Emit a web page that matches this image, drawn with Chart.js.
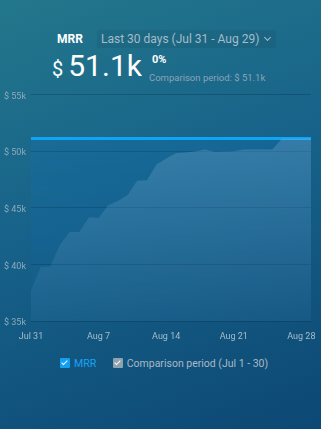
<!DOCTYPE html>
<html>
<head>
<meta charset="utf-8">
<script src="https://cdn.jsdelivr.net/npm/chart.js@4"></script>
<style>
  html, body { margin: 0; padding: 0; }
  body {
    width: 321px; height: 429px; overflow: hidden; position: relative;
    font-family: Roboto, "Noto Sans", sans-serif;
    background: linear-gradient(160deg, #23778b 0%, #17628a 45%, #0c4873 100%);
  }
  .abs { position: absolute; white-space: nowrap; }
  #title { left: 57px; top: 32px; font-size: 12px; font-weight: bold; color: #fff; }
  #range { left: 97px; top: 30px; padding: 2px 4px; font-size: 12px; color: #a4bccb; background: rgba(0,0,0,0.06); }
  #range .chev { display: inline-block; width: 4px; height: 4px; margin: 0 2px 3px 6px; border: solid #a4bccb; border-width: 0 1.5px 1.5px 0; transform: rotate(45deg); }
  #cur { left: 52px; top: 48px; font-size: 30px; color: #fff; }
  #cur small { font-size: 20px; margin-right: 5px; }
  #pct { left: 152px; top: 53px; font-size: 11px; font-weight: bold; color: #fff; }
  #cmp { left: 149px; top: 72px; font-size: 9.5px; color: #8aa5b7; }
  #chartWrap { position: absolute; left: 0; top: 85px; width: 321px; height: 270px; }
  #legend { left: 60px; top: 357px; font-size: 10.5px; }
  .box { display: inline-block; width: 10px; height: 10px; border-radius: 1px; vertical-align: -1px; margin-right: 4px; position: relative; }
  .box::after { content: ""; position: absolute; left: 3px; top: 1px; width: 2px; height: 5px; border: solid #fff; border-width: 0 1px 1px 0; transform: rotate(45deg); }
</style>
</head>
<body>
<div class="abs" id="title">MRR</div>
<div class="abs" id="range">Last 30 days (Jul 31 - Aug 29)<span class="chev"></span></div>
<div class="abs" id="cur"><small>$</small>51.1k</div>
<div class="abs" id="pct">0%</div>
<div class="abs" id="cmp">Comparison period: $ 51.1k</div>
<div id="chartWrap"><canvas id="mrrChart"></canvas></div>
<div class="abs" id="legend">
  <span class="box" style="background:#14a0f0"></span><span style="color:#1aa3f5;margin-right:14px">MRR</span>
  <span class="box" style="background:#8ea2b0"></span><span style="color:#a9b9c4">Comparison period (Jul 1 - 30)</span>
</div>
<script>
// Days of the current period (Jul 31 - Aug 29)
const days = ['Jul 31', 'Aug 1', 'Aug 2', 'Aug 3', 'Aug 4', 'Aug 5', 'Aug 6', 'Aug 7', 'Aug 8', 'Aug 9',
  'Aug 10', 'Aug 11', 'Aug 12', 'Aug 13', 'Aug 14', 'Aug 15', 'Aug 16', 'Aug 17', 'Aug 18', 'Aug 19',
  'Aug 20', 'Aug 21', 'Aug 22', 'Aug 23', 'Aug 24', 'Aug 25', 'Aug 26', 'Aug 27', 'Aug 28', 'Aug 29'];
const shownDays = ['Jul 31', 'Aug 7', 'Aug 14', 'Aug 21', 'Aug 28'];

// MRR current period
const mrr = [51100, 51100, 51100, 51100, 51100, 51100, 51100, 51100, 51100, 51100,
  51100, 51100, 51100, 51100, 51100, 51100, 51100, 51100, 51100, 51100,
  51100, 51100, 51100, 51100, 51100, 51100, 51100, 51100, 51100, 51100];

// Comparison period (Jul 1 - 30)
const comparison = [37700, 39770, 39800, 41700, 42860, 42860, 44160, 44100, 45220, 45600,
  46100, 47370, 47430, 48820, 49350, 49800, 49870, 49950, 50140, 49930,
  49960, 49990, 50140, 50140, 50140, 50140, 51100, 51100, 51100, 51100];

const yTicks = [35000, 40000, 45000, 50000, 55000];

function vGradient(ctx, top, bottom) {
  const area = ctx.chart.chartArea;
  if (!area) return top;
  const g = ctx.chart.ctx.createLinearGradient(0, area.top, 0, area.bottom);
  g.addColorStop(0, top);
  g.addColorStop(1, bottom);
  return g;
}

const ctx = document.getElementById('mrrChart').getContext('2d');
new Chart(ctx, {
  type: 'line',
  data: {
    labels: days,
    datasets: [{
      label: 'Comparison period (Jul 1 - 30)',
      data: comparison,
      borderWidth: 0,
      borderColor: 'rgba(0,0,0,0)',
      fill: 'origin',
      backgroundColor: c => vGradient(c, 'rgba(140,185,215,0.32)', 'rgba(140,185,215,0.06)'),
      pointRadius: 0,
      tension: 0
    }, {
      label: 'MRR',
      data: mrr,
      borderColor: '#0ea5f5',
      borderWidth: 3,
      fill: 'origin',
      backgroundColor: c => vGradient(c, 'rgba(10,130,230,0.16)', 'rgba(10,110,200,0.06)'),
      pointRadius: 0,
      tension: 0
    }]
  },
  options: {
    responsive: true,
    maintainAspectRatio: false,
    animation: false,
    layout: { padding: { top: 6, right: 7, left: 4, bottom: 0 } },
    plugins: { legend: { display: false }, tooltip: { enabled: false } },
    scales: {
      x: {
        grid: { display: false, drawTicks: false },
        border: { display: false },
        ticks: {
          autoSkip: false, maxRotation: 0, padding: 10,
          color: '#a7bccb', font: { size: 9, family: 'Roboto' },
          callback: function (v) { const l = this.getLabelForValue(v); return shownDays.includes(l) ? l : ''; }
        },
        afterFit: s => { s.height = 34; }
      },
      y: {
        min: yTicks[0], max: yTicks[yTicks.length - 1],
        afterBuildTicks: s => { s.ticks = yTicks.map(v => ({ value: v })); },
        grid: { color: 'rgba(0,20,50,0.22)', drawTicks: false },
        border: { display: false },
        ticks: {
          crossAlign: 'far', padding: 4, labelOffset: 2,
          color: '#8ea9bb', font: { size: 9, family: 'Roboto' },
          callback: v => '$ ' + (v / 1000) + 'k'
        },
        afterFit: s => { s.width = 27; }
      }
    }
  }
});
</script>
</body>
</html>
